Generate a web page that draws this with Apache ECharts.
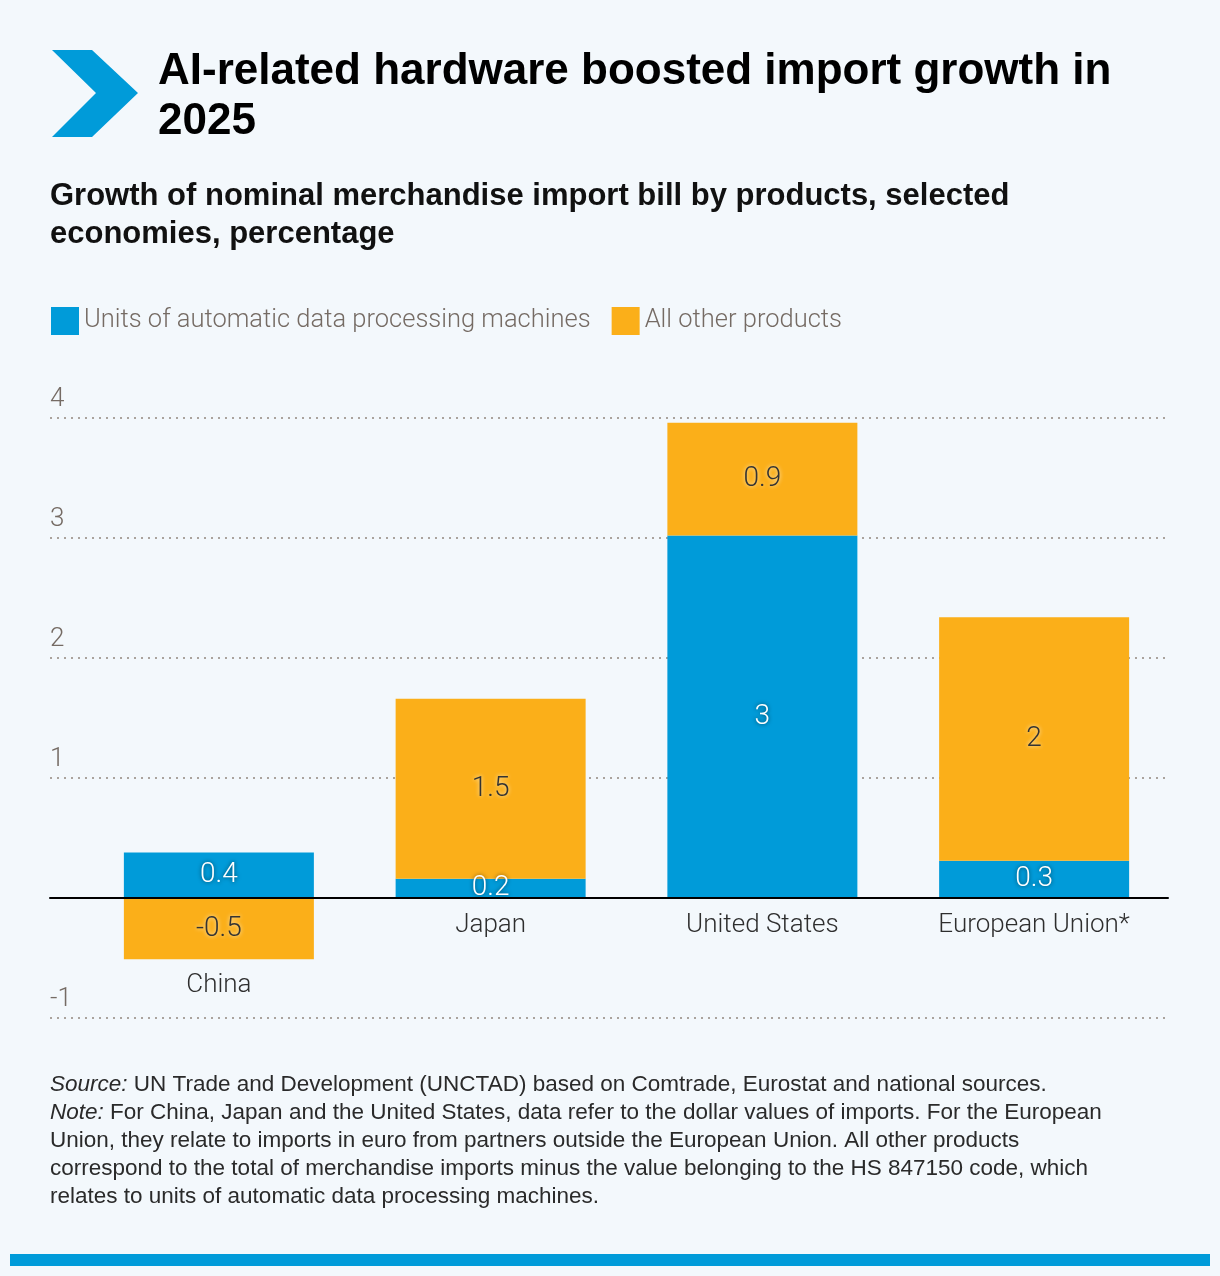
<!DOCTYPE html>
<html>
<head>
<meta charset="utf-8">
<script src="https://cdn.jsdelivr.net/npm/echarts@6/dist/echarts.min.js"></script>
<style>
  html, body { margin: 0; padding: 0; background: #f3f8fc; }
  #chart { width: 1220px; height: 1276px; }
</style>
</head>
<body>
<div id="chart"></div>
<script>
// data (labels show rounded values)
const categories = ['China', 'Japan', 'United States', 'European Union*'];
const adpMachines = [0.38, 0.16, 3.02, 0.31];
const otherProducts = [-0.51, 1.50, 0.94, 2.03];
const seriesNames = ['Units of automatic data processing machines', 'All other products'];
const yTicks = { min: -1, max: 4, interval: 1 };

const BLUE = '#009bd9';
const ORANGE = '#fbaf19';
const GREY = '#756b64';
const NARROW = 'Roboto, "Liberation Sans", sans-serif';
const SANS = '"Liberation Sans", Arial, sans-serif';

function fmt(p) {
    const v = Math.round(p.value * 10) / 10;
    return String(v);
}

const chart = echarts.init(document.getElementById('chart'));

chart.setOption({
    backgroundColor: '#f3f8fc',
    animation: false,
    legend: {
        left: 46, top: 302,
        itemWidth: 28, itemHeight: 28, itemGap: 21,
        icon: 'rect',
        textStyle: { fontFamily: NARROW, fontWeight: 300, fontSize: 25.5, color: GREY }
    },
    grid: [
        { left: 50, right: 52, top: 418, bottom: 258 },
        { left: 83, right: 50, top: 418, bottom: 258 }
    ],
    xAxis: [
        {
            gridIndex: 0, type: 'category', data: categories, z: 5,
            axisLine: { lineStyle: { color: '#000', width: 2 } },
            axisTick: { show: false }, axisLabel: { show: false }
        },
        {
            // labels sit under the zero line (120px above the grid bottom)
            gridIndex: 1, type: 'category', data: categories, offset: -120,
            axisLine: { show: false, onZero: false }, axisTick: { show: false },
            axisLabel: {
                interval: 0, margin: 14,
                fontFamily: NARROW, fontWeight: 300, fontSize: 26, color: '#2e2e2e',
                formatter: function (v) { return v === 'China' ? '{low|' + v + '}' : v; },
                rich: { low: { fontFamily: NARROW, fontWeight: 300, fontSize: 26, color: '#2e2e2e', padding: [60, 0, 0, 0] } }
            }
        }
    ],
    yAxis: [
        {
            gridIndex: 0, type: 'value', min: yTicks.min, max: yTicks.max, interval: yTicks.interval,
            axisLine: { show: false }, axisTick: { show: false },
            splitLine: { lineStyle: { color: '#aaa39d', width: 2, type: [2, 5] } },
            axisLabel: {
                inside: true, margin: 0, verticalAlign: 'bottom', align: 'left',
                padding: [0, 0, 6, 0],
                fontFamily: NARROW, fontWeight: 300, fontSize: 26, color: GREY,
                formatter: function (v) { return v === 0 ? '' : String(v); }
            }
        },
        {
            gridIndex: 1, type: 'value', min: yTicks.min, max: yTicks.max, interval: yTicks.interval,
            show: false, splitLine: { show: false }
        }
    ],
    series: [
        {
            name: seriesNames[0], type: 'bar', stack: 'total',
            xAxisIndex: 1, yAxisIndex: 1, barWidth: 190,
            itemStyle: { color: BLUE },
            data: adpMachines,
            label: {
                show: true, position: 'inside', formatter: fmt,
                fontFamily: NARROW, fontWeight: 300, fontSize: 28, color: '#fff',
                textShadowColor: 'rgba(0,0,0,0.6)', textShadowBlur: 4
            }
        },
        {
            name: seriesNames[1], type: 'bar', stack: 'total',
            xAxisIndex: 1, yAxisIndex: 1, barWidth: 190,
            itemStyle: { color: ORANGE },
            data: otherProducts,
            label: {
                show: true, position: 'inside', formatter: fmt,
                fontFamily: NARROW, fontWeight: 300, fontSize: 28, color: '#333',
                textShadowColor: 'rgba(255,255,255,0.8)', textShadowBlur: 4
            }
        }
    ],
    graphic: [
        {
            type: 'polygon',
            shape: { points: [[52, 50], [92, 50], [138, 93], [92, 137], [52, 137], [96, 93]] },
            style: { fill: BLUE }
        },
        {
            type: 'text', left: 158, top: 47,
            style: {
                text: 'AI-related hardware boosted import growth in\n2025',
                fontFamily: SANS, fontWeight: 'bold',
                fontSize: 44, lineHeight: 50, fill: '#000'
            }
        },
        {
            type: 'text', left: 50, top: 177,
            style: {
                text: 'Growth of nominal merchandise import bill by products, selected\neconomies, percentage',
                fontFamily: SANS, fontWeight: 'bold',
                fontSize: 31, lineHeight: 38, fill: '#111'
            }
        },
        {
            type: 'text', left: 50, top: 1071,
            style: {
                text: '{i|Source:} UN Trade and Development (UNCTAD) based on Comtrade, Eurostat and national sources.\n' +
                      '{i|Note:} For China, Japan and the United States, data refer to the dollar values of imports. For the European\n' +
                      'Union, they relate to imports in euro from partners outside the European Union. All other products\n' +
                      'correspond to the total of merchandise imports minus the value belonging to the HS 847150 code, which\n' +
                      'relates to units of automatic data processing machines.',
                fontFamily: SANS,
                fontSize: 22.5, lineHeight: 28, fill: '#2a2a2a',
                rich: {
                    i: { fontStyle: 'italic', fontFamily: SANS, fontSize: 22.5, lineHeight: 28, fill: '#2a2a2a' }
                }
            }
        },
        {
            type: 'rect', shape: { x: 10, y: 1254, width: 1200, height: 12 },
            style: { fill: BLUE }
        }
    ]
});
</script>
</body>
</html>
